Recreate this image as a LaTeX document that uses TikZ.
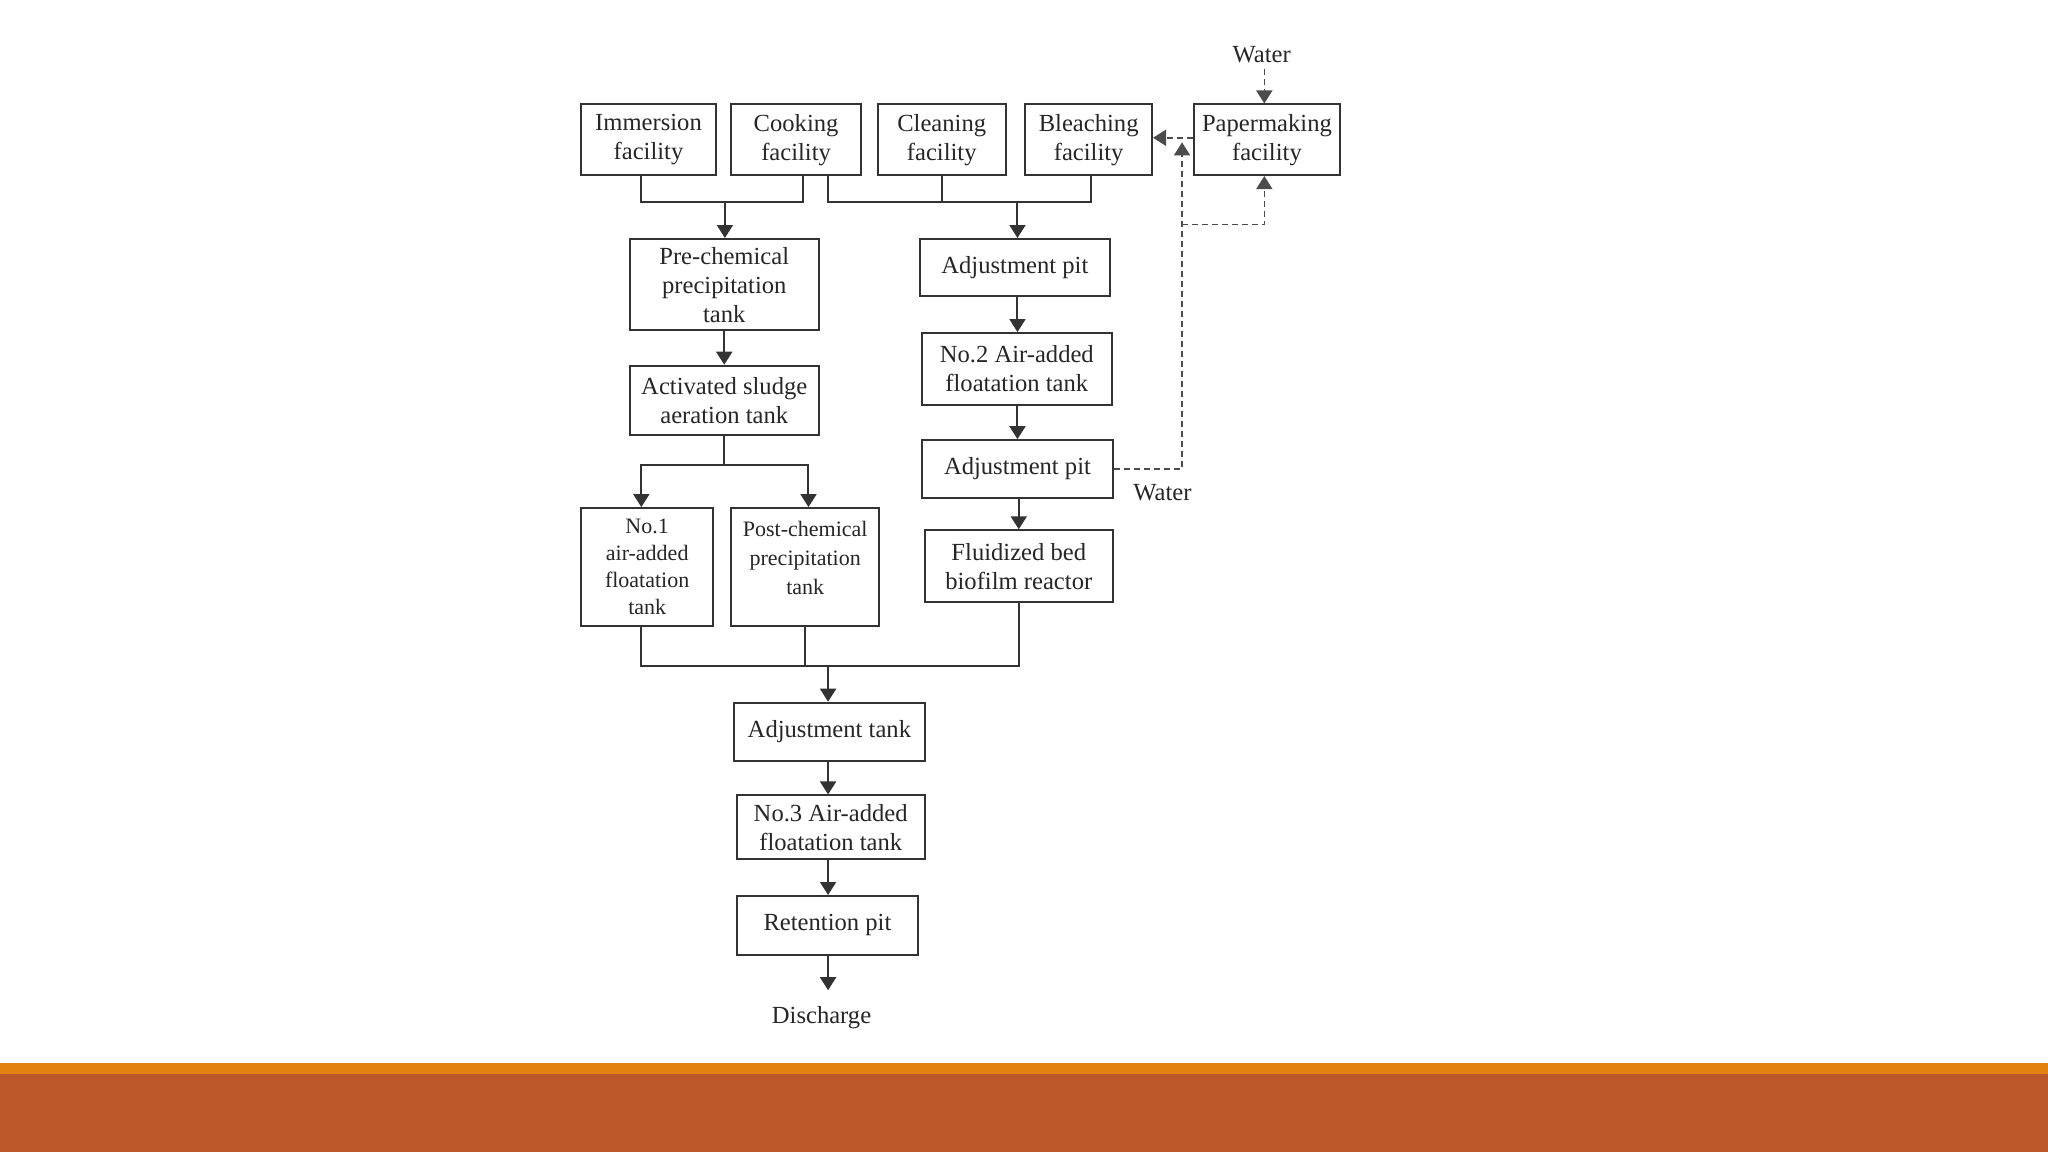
\documentclass[tikz,border=0pt]{standalone}
\usepackage{fontspec}
\setmainfont{Liberation Serif}
\usetikzlibrary{arrows.meta,calc}
\definecolor{bandorange}{HTML}{E3820F}
\definecolor{bandrust}{HTML}{BD582B}
\begin{document}
\begin{tikzpicture}[x=0.653pt,y=-0.653pt,
  box/.style 2 args={draw=black!80, line width=1pt, fill=white,
    minimum width=#1*0.653pt, minimum height=#2*0.653pt, inner sep=0pt,
    align=center, font=\fontsize{12.3}{14.5}\selectfont, text=black!85},
  smallbox/.style 2 args={box={#1}{#2}, font=\fontsize{11}{13.5}\selectfont},
  lbl/.style={inner sep=0pt, font=\fontsize{12.3}{14.5}\selectfont, text=black!85},
  line/.style={draw=black!80, line width=1pt},
  arr/.style={line, -{Triangle[width=8pt,length=6.5pt]}},
  dline/.style={draw=black!70, line width=0.8pt, dash pattern=on 3pt off 2pt},
  darr/.style={dline, -{Triangle[width=8pt,length=6.5pt]}}
]
\useasboundingbox (0,0) rectangle (1568,882);
\fill[white] (0,0) rectangle (1568,882);
\fill[bandorange] (0,814) rectangle (1568,822);
\fill[bandrust] (0,822) rectangle (1568,882);

% top row
\node[box={103}{54}] (imm) at (496.5,107) {Immersion\\facility};
\node[box={99}{54}] (cook) at (609.5,107) {Cooking\\facility};
\node[box={98}{54}] (clean) at (721,107) {Cleaning\\facility};
\node[box={97}{54}] (bleach) at (833.5,107) {Bleaching\\facility};
\node[box={112}{54}] (paper) at (970,107) {Papermaking\\facility};
\node[lbl] (wtop) at (966,42) {Water};

% left branch
\node[box={145}{70}] (pre) at (554.5,218) {Pre-chemical\\precipitation\\tank};
\node[box={145}{53}] (act) at (554.5,306.5) {Activated sludge\\aeration tank};
\node[smallbox={101}{90}] (no1) at (495.5,434) {No.1\\air-added\\floatation\\tank};
\node[smallbox={113}{90}] (post) at (616.5,434) {};
\node[lbl, align=center, font=\fontsize{11}{14.5}\selectfont] (posttext) at (616.5,427) {Post-chemical\\precipitation\\tank};

% right branch
\node[box={146}{44}] (adj1) at (777,205) {Adjustment pit};
\node[box={145}{55}] (no2) at (778.5,282.5) {No.2 Air-added\\floatation tank};
\node[box={146}{44}] (adj2) at (779,359) {Adjustment pit};
\node[box={144}{55}] (fbr) at (780,433.5) {Fluidized bed\\biofilm reactor};
\node[lbl] (wbot) at (890,377) {Water};

% bottom chain
\node[box={146}{45}] (adjt) at (635,560.5) {Adjustment tank};
\node[box={144}{49}] (no3) at (636,633.5) {No.3 Air-added\\floatation tank};
\node[box={139}{45}] (ret) at (633.5,708.5) {Retention pit};
\node[lbl] (dis) at (629,779) {Discharge};

% junction coordinates
\coordinate (busL) at (555,155);
\coordinate (busR) at (779,155);
\coordinate (split) at ($(act.south)+(0,22)$);
\coordinate (busB) at (634,510);
\coordinate (uptip) at (905,109);
\coordinate (dj) at (905,172);

% top collectors
\draw[line] ($(imm.south)+(-5.5,0)$) |- (busL) -| ($(cook.south)+(5.5,0)$);
\draw[arr] (busL) -- (busL |- pre.north);
\draw[line] ($(cook.south)+(24.5,0)$) |- (busR) -| ($(bleach.south)+(1.5,0)$);
\draw[line] (clean.south) -- (clean.south |- busR);
\draw[arr] (busR) -- (busR |- adj1.north);

% left chain
\draw[arr] (pre.south) -- (pre.south |- act.north);
\draw[line] (act.south) -- (split);
\draw[arr] (split) -| ($(no1.north)+(-4.5,0)$);
\draw[arr] (split) -| ($(post.north)+(2.5,0)$);

% right chain
\draw[arr] (busR |- adj1.south) -- (busR |- no2.north);
\draw[arr] (busR |- no2.south) -- (busR |- adj2.north);
\draw[arr] (fbr.north |- adj2.south) -- (fbr.north);

% bottom collector
\draw[line] ($(no1.south)+(-4.5,0)$) |- (busB) -| (fbr.south);
\draw[line] (post.south) -- (post.south |- busB);
\draw[arr] (busB) -- (busB |- adjt.north);
\draw[arr] (busB |- adjt.south) -- (busB |- no3.north);
\draw[arr] (busB |- no3.south) -- (busB |- ret.north);
\draw[arr] (busB |- ret.south) -- ($(busB |- dis.north)+(0,-12)$);

% dashed water loops
\draw[darr] ($(wtop.south)+(2,4)$) -- ($(paper.north)+(-2,0)$);
\draw[darr] ($(paper.west)+(0,-1.5)$) -- ($(bleach.east)+(0,-1.5)$);
\draw[darr] (adj2.east) -| (uptip);
\draw[darr] (dj) -| ($(paper.south)+(-2,0)$);
\end{tikzpicture}
\end{document}
